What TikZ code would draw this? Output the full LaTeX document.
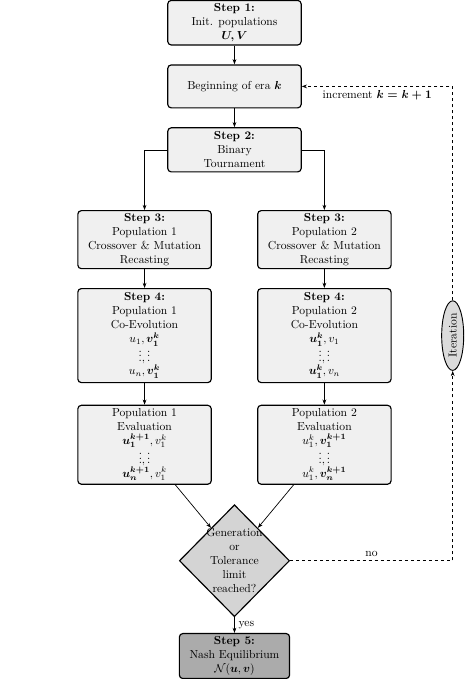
\documentclass[tikz,border=0pt]{standalone}
\usepackage{amsmath}
\usepackage{amssymb}
\usepackage{tikz}
\usetikzlibrary{arrows.meta,calc,positioning,shapes.geometric}
\newcommand{\coldots}{\raisebox{-2.5pt}{\smash{$\vdots,\vdots$}}}
\tikzset{
	flow chart/.style={
		node distance=16.2pt and 16.2pt,
		arr/.style={-{Stealth[length=4.5pt,width=3.2pt]},semithick},
		loop back/.style={arr,dash pattern=on 2.6pt off 2.6pt},
		},
	stepbox/.style={draw,line width=1pt,rounded corners=3pt,fill=black!6,
		align=center,inner xsep=2pt,inner ysep=.5pt,minimum width=115pt,minimum height=#1},
	finalbox/.style={stepbox=38.8pt,minimum width=95pt,fill=black!33},
	decision/.style={diamond,draw,line width=1pt,fill=black!17,inner sep=0pt,
		minimum width=95pt,minimum height=96.5pt},
	iterbox/.style={ellipse,draw,line width=.8pt,fill=black!14,inner sep=0pt,
		minimum width=19pt,minimum height=60pt}
}

\begin{document}
\begin{tikzpicture}[flow chart]
  \useasboundingbox (-202.1pt,19.57pt) rectangle (206.4pt,-565.7pt);
  \node[stepbox=38.4pt] (init) {\textbf{Step 1:}\\Init. populations\\$\boldsymbol{U,V}$};
  \node[stepbox=37pt, below=of init] (era) {Beginning of era $\boldsymbol{k}$};
  \node[stepbox=38pt, below=of era] (tourn) {\textbf{Step 2:}\\Binary\\Tournament};
  \node[stepbox=50pt, below=32.4pt of tourn, xshift=-77.5pt] (crossA)
        {\textbf{Step 3:}\\Population 1\\Crossover \& Mutation\\Recasting};
  \node[stepbox=50pt, below=32.4pt of tourn, xshift=77.5pt] (crossB)
        {\textbf{Step 3:}\\Population 2\\Crossover \& Mutation\\Recasting};
  \node[stepbox=81pt, below=of crossA] (coevA)
        {\textbf{Step 4:}\\Population 1\\Co-Evolution\\$u_1,\boldsymbol{v_1^k}$\\[2pt]\coldots\\[2pt]$u_n,\boldsymbol{v_1^k}$};
  \node[stepbox=81pt, below=of crossB] (coevB)
        {\textbf{Step 4:}\\Population 2\\Co-Evolution\\$\boldsymbol{u_1^k},v_1$\\[2pt]\coldots\\[2pt]$\boldsymbol{u_1^k},v_n$};
  \node[stepbox=68pt, below=18.6pt of coevA] (evalA)
        {Population 1\\Evaluation\\$\boldsymbol{u_1^{k+1}},v_1^k$\\[2pt]\coldots\\[2pt]$\boldsymbol{u_n^{k+1}},v_1^k$};
  \node[stepbox=68pt, below=18.6pt of coevB] (evalB)
        {Population 2\\Evaluation\\$u_1^k,\boldsymbol{v_1^{k+1}}$\\[2pt]\coldots\\[2pt]$u_1^k,\boldsymbol{v_n^{k+1}}$};
  \node[decision, anchor=north] (test) at ($(evalA.south -| tourn)+(0,-16.7pt)$) {};
  \node[align=center] (testtext) at (test) {Generation\\or\\Tolerance\\limit\\reached?};
  \node[finalbox, below=13.5pt of test] (nash)
        {\textbf{Step 5:}\\Nash Equilibrium\\$\mathcal{N}(\boldsymbol{u},\boldsymbol{v})$};
  \node[iterbox, right=42.7pt of coevB] (iter) {};
  \node[rotate=90] (itertext) at (iter) {Iteration};

  \draw[arr] (init) -- (era);
  \draw[arr] (era) -- (tourn);
  \draw[arr] (tourn.west) -| (crossA);
  \draw[arr] (tourn.east) -| (crossB);
  \draw[arr] (crossA) -- (coevA);
  \draw[arr] (crossB) -- (coevB);
  \draw[arr] (coevA) -- (evalA);
  \draw[arr] (coevB) -- (evalB);
  \draw[arr] ([xshift=26.5pt]evalA.south) -- ($(test.north)!.42!(test.west)$);
  \draw[arr] ([xshift=-26.5pt]evalB.south) -- ($(test.north)!.42!(test.east)$);
  \draw[arr] (test) -- node[right] {yes} (nash);
  \draw[loop back] (test.east) -| node[pos=.25,above] {no} (iter);
  \draw[loop back] (iter) |- node[pos=.75,below] {increment $\boldsymbol{k=k+1}$} (era);
\end{tikzpicture}
\end{document}
